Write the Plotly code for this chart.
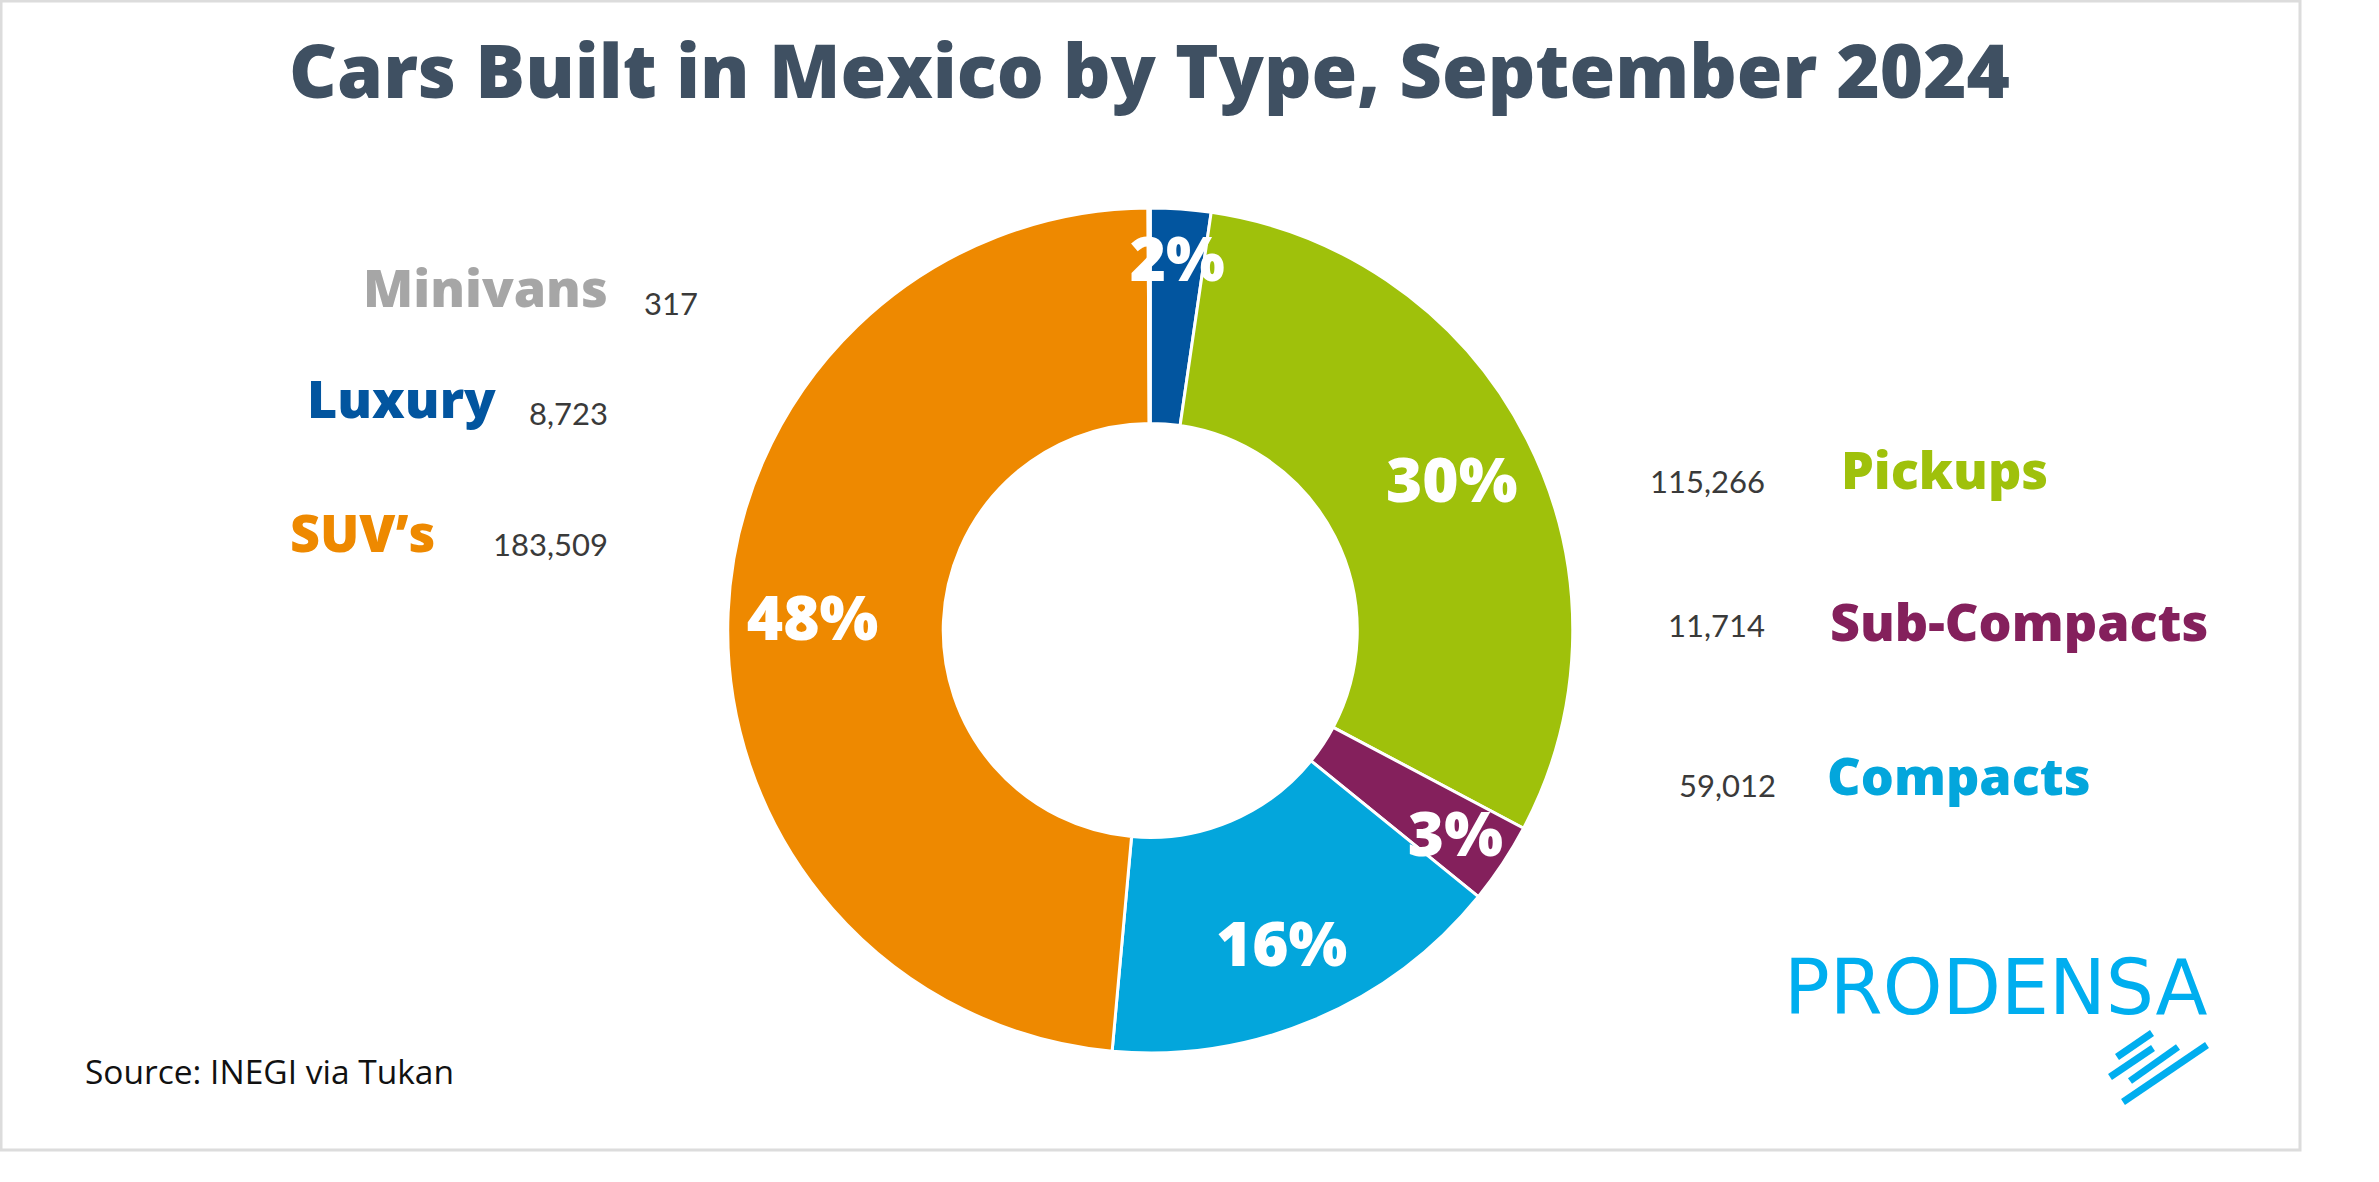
import plotly.graph_objects as go

# ---------------- data ----------------
categories = ["Luxury", "Pickups", "Sub-Compacts", "Compacts", "SUV\u2019s", "Minivans"]
units = [8723, 115266, 11714, 59012, 183509, 317]
colors = ["#02559F", "#9FC10B", "#84205C", "#03A6DC", "#EE8900", "#A6A6A6"]
title_text = "Cars Built in Mexico by Type, September 2024"
source_text = "Source: INEGI via Tukan"

W, H = 2379, 1182


def px(x):
    return x / W


def py(y):
    return 1 - y / H


total = sum(units)
shares = [u / total for u in units]

fig = go.Figure()

# coloured donut
fig.add_trace(go.Pie(
    labels=categories,
    values=units,
    sort=False,
    direction="clockwise",
    rotation=0,
    hole=0.49,
    marker=dict(colors=colors, line=dict(color="white", width=3)),
    textinfo="none",
    showlegend=False,
    domain=dict(x=[0.2, 0.767], y=[0.1092, 0.8241]),
))

pct_font = dict(family="Open Sans", size=62, color="white", weight=800)

# transparent overlays of the same data carrying the percentage labels
# (large slices on one ring, narrow slices on a slightly smaller ring)
for want_big, hole, ydom in [(True, 0.60, [0.1092, 0.8241]), (False, 0.70, [0.1271, 0.8062])]:
    tmpl = []
    for s in shares:
        big = s >= 0.10
        tmpl.append("%{percent:.0%}" if (big == want_big and s >= 0.005) else "")
    fig.add_trace(go.Pie(
        labels=categories,
        values=units,
        sort=False,
        direction="clockwise",
        rotation=0,
        hole=hole,
        marker=dict(colors=["rgba(0,0,0,0)"] * len(units), line=dict(width=0)),
        texttemplate=tmpl,
        textposition="inside",
        insidetextorientation="horizontal",
        insidetextfont=pct_font,
        hoverinfo="skip",
        showlegend=False,
        domain=dict(x=[0.2, 0.767], y=ydom),
    ))

# label / value placements (pixel positions of the reference layout)
left_side = {"Minivans": (610, 287, 642, 303),
             "Luxury": (498, 397, 610, 413),
             "SUV\u2019s": (437, 531, 610, 544)}
right_side = {"Pickups": (1839, 468, 1767, 481),
              "Sub-Compacts": (1828, 620, 1767, 625),
              "Compacts": (1825, 775, 1778, 785)}

annotations = []
for cat, val, col in zip(categories, units, colors):
    if cat in left_side:
        lx, ly, vx, vy = left_side[cat]
        annotations.append(dict(x=px(lx), y=py(ly), xref="paper", yref="paper",
                                text=cat, showarrow=False, xanchor="right", yanchor="middle",
                                font=dict(family="Open Sans", size=52, color=col, weight=800)))
        anchor = "left" if cat == "Minivans" else "right"
        annotations.append(dict(x=px(vx), y=py(vy), xref="paper", yref="paper",
                                text=f"{val:,}", showarrow=False, xanchor=anchor, yanchor="middle",
                                font=dict(family="Lato", size=31, color="#3a3a3a")))
    else:
        lx, ly, vx, vy = right_side[cat]
        annotations.append(dict(x=px(lx), y=py(ly), xref="paper", yref="paper",
                                text=cat, showarrow=False, xanchor="left", yanchor="middle",
                                font=dict(family="Open Sans", size=52, color=col, weight=800)))
        annotations.append(dict(x=px(vx), y=py(vy), xref="paper", yref="paper",
                                text=f"{val:,}", showarrow=False, xanchor="right", yanchor="middle",
                                font=dict(family="Lato", size=31, color="#3a3a3a")))

# title
annotations.append(dict(x=px(1149), y=py(69), xref="paper", yref="paper", text=title_text,
                        showarrow=False, xanchor="center", yanchor="middle",
                        font=dict(family="Open Sans", size=74, color="#3F5062", weight=800)))
# source
annotations.append(dict(x=px(83), y=py(1071), xref="paper", yref="paper", text=source_text,
                        showarrow=False, xanchor="left", yanchor="middle",
                        font=dict(family="Open Sans", size=33.5, color="#111111")))
# logo word
annotations.append(dict(x=px(1996), y=py(987), xref="paper", yref="paper", text="PRODENSA",
                        showarrow=False, xanchor="center", yanchor="middle",
                        font=dict(family="DejaVu Sans", size=76, color="#00AEEF")))

shapes = [
    dict(type="rect", xref="paper", yref="paper", x0=px(1), x1=px(2300), y0=py(1150), y1=py(1),
         line=dict(color="#DCDCDC", width=3), fillcolor="rgba(0,0,0,0)", layer="below"),
]
for (x0, y0, x1, y1) in [(2117, 1057, 2152, 1033), (2110, 1077, 2153, 1048),
                         (2130, 1081, 2178, 1047), (2123, 1102, 2207, 1045)]:
    shapes.append(dict(type="line", xref="paper", yref="paper", x0=px(x0), y0=py(y0),
                       x1=px(x1), y1=py(y1), line=dict(color="#00AEEF", width=7)))

fig.update_layout(
    width=W, height=H,
    margin=dict(l=0, r=0, t=0, b=0),
    paper_bgcolor="white", plot_bgcolor="white",
    uniformtext=dict(minsize=62, mode="show"),
    annotations=annotations,
    shapes=shapes,
)

fig.write_html("out.html")
